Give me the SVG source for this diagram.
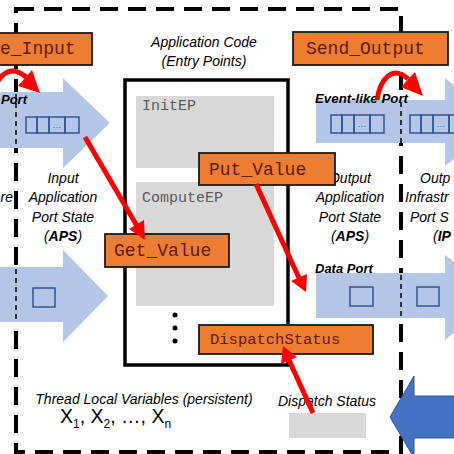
<svg xmlns="http://www.w3.org/2000/svg" width="454" height="454" viewBox="0 0 454 454">
<defs>
<style>
.port{fill:#b4c7e7;}
.q{fill:none;stroke:#2f5597;stroke-width:1.5;}
.thick{fill:none;stroke:#000;stroke-width:4;stroke-dasharray:18 10;}
.thin{fill:none;stroke:#000;stroke-width:1.5;stroke-dasharray:5 4;}
.orange rect{fill:#ed7d31;stroke:#1a1a1a;stroke-width:1.8;}
.orange text{font-family:"Liberation Mono","Courier New",monospace;fill:#5e1c08;}
.lbl{font-family:"Liberation Sans",Arial,sans-serif;font-style:italic;font-size:14px;fill:#000;text-anchor:middle;}
.bi{font-family:"Liberation Sans",Arial,sans-serif;font-style:italic;font-weight:bold;font-size:13px;fill:#000;}
.ep{font-family:"Liberation Mono","Courier New",monospace;font-size:15px;fill:#595959;}
.red{fill:none;stroke:#ff0000;stroke-width:5;}
.redh{fill:#ff0000;}
</style>
</defs>
<rect width="454" height="454" fill="#fff"/>
<!-- thread boundary -->
<g id="thread-boundary">
<rect x="16" y="9" width="385" height="443" class="thick"/>
</g>
<!-- ports -->
<g id="in-event-port">
<polygon class="port" points="-5,92 63,92 63,78 110,123 63,168 63,148 -5,148"/>
<line x1="16" y1="92" x2="16" y2="148" stroke="#b4c7e7" stroke-width="6"/>
<line class="thin" x1="16" y1="94" x2="16" y2="148"/>
<rect class="q" x="26" y="117" width="11" height="16"/>
<rect class="q" x="37" y="117" width="12" height="16"/>
<rect class="q" x="49" y="117" width="16" height="16"/>
<rect class="q" x="65" y="117" width="14" height="16"/>
<text x="57" y="128" font-family="Liberation Sans,sans-serif" font-size="9" text-anchor="middle" fill="#2f5597">…</text>
<text class="bi" x="27" y="104" text-anchor="end">Port</text>
</g>
<g id="out-event-port">
<polygon class="port" points="316,100 445,100 445,78 500,122 445,166 445,143 316,143"/>
<line x1="401" y1="100" x2="401" y2="143" stroke="#b4c7e7" stroke-width="6"/>
<line class="thin" x1="401" y1="102" x2="401" y2="143"/>
<rect class="q" x="331" y="115" width="11" height="18"/>
<rect class="q" x="342" y="115" width="12" height="18"/>
<rect class="q" x="354" y="115" width="16" height="18"/>
<rect class="q" x="370" y="115" width="14" height="18"/>
<text x="362" y="127" font-family="Liberation Sans,sans-serif" font-size="9" text-anchor="middle" fill="#2f5597">…</text>
<rect class="q" x="410" y="115" width="11" height="18"/>
<rect class="q" x="421" y="115" width="12" height="18"/>
<rect class="q" x="433" y="115" width="16" height="18"/>
<rect class="q" x="449" y="115" width="14" height="18"/>
<text x="441" y="127" font-family="Liberation Sans,sans-serif" font-size="9" text-anchor="middle" fill="#2f5597">…</text>
<text class="bi" x="315" y="103" textLength="93" lengthAdjust="spacingAndGlyphs">Event-like Port</text>
</g>
<g id="in-data-port">
<polygon class="port" points="-5,267 63,267 63,250 108,296 63,342 63,322 -5,322"/>
<line x1="16" y1="267" x2="16" y2="322" stroke="#b4c7e7" stroke-width="6"/>
<line class="thin" x1="16" y1="269" x2="16" y2="322"/>
<rect class="q" x="33" y="288" width="22" height="19"/>
</g>
<g id="out-data-port">
<polygon class="port" points="316,273 445,273 445,255 500,296 445,340 445,318 316,318"/>
<line x1="401" y1="273" x2="401" y2="318" stroke="#b4c7e7" stroke-width="6"/>
<line class="thin" x1="401" y1="275" x2="401" y2="318"/>
<rect class="q" x="350" y="287" width="23" height="19"/>
<rect class="q" x="417" y="287" width="22" height="19"/>
<text class="bi" x="315" y="273">Data Port</text>
</g>
<g id="dispatch-in">
<polygon points="390,417 414,376 414,396 460,396 460,438 414,438 414,458" fill="#4472c4" stroke="#2f5597" stroke-width="1"/>
</g>
<!-- labels -->
<g id="labels">
<text class="lbl" x="204" y="47">Application Code</text>
<text class="lbl" x="204" y="66">(Entry Points)</text>
<text class="lbl" x="63" y="183">Input</text>
<text class="lbl" x="63" y="202">Application</text>
<text class="lbl" x="63" y="222">Port State</text>
<text class="lbl" x="63" y="241">(<tspan font-weight="bold">APS</tspan>)</text>
<text class="lbl" x="13" y="202" style="text-anchor:end">re</text>
<text class="lbl" x="350" y="183">Output</text>
<text class="lbl" x="350" y="202">Application</text>
<text class="lbl" x="350" y="222">Port State</text>
<text class="lbl" x="350" y="241">(<tspan font-weight="bold">APS</tspan>)</text>
<text class="lbl" x="420" y="183" style="text-anchor:start">Outp</text>
<text class="lbl" x="405" y="202" style="text-anchor:start">Infrastr</text>
<text class="lbl" x="410" y="222" style="text-anchor:start">Port S</text>
<text class="lbl" x="433" y="241" style="text-anchor:start">(<tspan font-weight="bold">IP</tspan></text>
<text class="lbl" x="144" y="404">Thread Local Variables (persistent)</text>
<text class="lbl" x="327" y="406">Dispatch Status</text>
<text x="60" y="423" font-family="Liberation Sans,Arial,sans-serif" font-size="19.5" fill="#000">X<tspan font-size="12" dy="5">1</tspan><tspan dy="-5">, X</tspan><tspan font-size="12" dy="5">2</tspan><tspan dy="-5">, …, X</tspan><tspan font-size="12" dy="5">n</tspan></text>
</g>
<!-- application code -->
<g id="app-code">
<rect x="125" y="80" width="163" height="285" fill="#fff" stroke="#000" stroke-width="3.5"/>
</g>
<g id="init-ep">
<rect x="136" y="96" width="138" height="72" fill="#d9d9d9"/>
<text class="ep" x="142" y="110">InitEP</text>
</g>
<g id="compute-ep">
<rect x="136" y="182" width="138" height="124" fill="#d9d9d9"/>
<text class="ep" x="142" y="202">ComputeEP</text>
</g>
<g id="more-eps">
<circle cx="175" cy="315" r="2.5" fill="#000"/>
<circle cx="175" cy="328" r="2.5" fill="#000"/>
<circle cx="175" cy="341" r="2.5" fill="#000"/>
</g>
<g id="dispatch-status-var">
<rect x="289" y="413" width="77" height="25" fill="#d9d9d9"/>
</g>
<!-- API boxes -->
<g id="receive-input" class="orange">
<rect x="-10" y="33" width="102" height="32"/>
<text x="0" y="54" font-size="18">e_Input</text>
</g>
<g id="send-output" class="orange">
<rect x="293" y="32" width="155" height="33"/>
<text x="306" y="54" font-size="18">Send_Output</text>
</g>
<g id="put-value" class="orange">
<rect x="199" y="153" width="136" height="32"/>
<text x="209" y="175" font-size="18">Put_Value</text>
</g>
<g id="get-value" class="orange">
<rect x="105" y="234" width="124" height="33"/>
<text x="114" y="256" font-size="18">Get_Value</text>
</g>
<g id="dispatch-status" class="orange">
<rect x="199" y="325" width="174" height="29"/>
<text x="210" y="344" font-size="15.5">DispatchStatus</text>
</g>
<!-- connectors -->
<g id="connectors">
<line class="red" x1="85" y1="137" x2="137" y2="226"/>
<polygon class="redh" points="145,240 129,229 144,220"/>
<line class="red" x1="256" y1="184" x2="299" y2="278"/>
<polygon class="redh" points="306,292 291,281 307,274"/>
<line class="red" x1="313" y1="413" x2="289" y2="360"/>
<polygon class="redh" points="283,346 297,357 281,364"/>
<path class="red" d="M -8 100 C -5 78, 8 62, 26 77" stroke-width="7"/>
<polygon class="redh" points="18,86 32,70 40,93"/>
<path class="red" d="M 377 100 C 380 80, 392 64, 408 79" stroke-width="7"/>
<polygon class="redh" points="401,87 415,72 423,96"/>
</g>
</svg>
